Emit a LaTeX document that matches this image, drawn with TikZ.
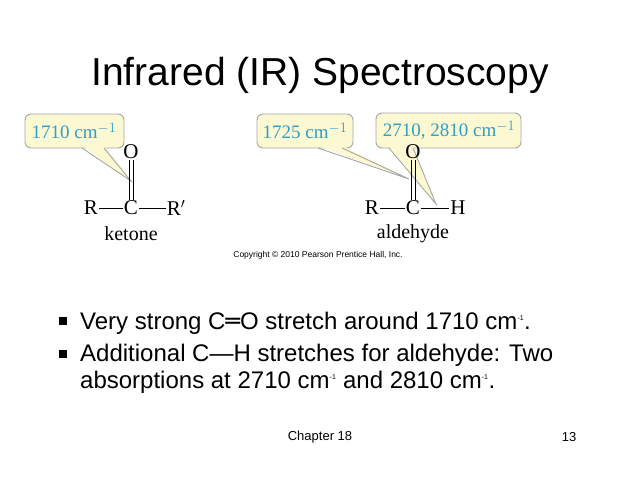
\documentclass[tikz,border=0pt]{standalone}
\usepackage{fontspec}
\setmainfont{Liberation Sans}
\newfontfamily\serif{Liberation Serif}
\newfontfamily\djvfont{DejaVu Sans}
\definecolor{cfill}{HTML}{FCF8D2}
\definecolor{ctxt}{HTML}{2F9FC6}
\begin{document}
\begin{tikzpicture}[x=1pt,y=-1pt,
  call/.style={draw=gray!70,fill=cfill,line width=0.9pt,rounded corners=6pt},
  ctext/.style={text=ctxt,font=\serif\fontsize{19}{19}\selectfont,inner sep=0},
  atom/.style={font=\serif\fontsize{21}{21}\selectfont,inner sep=1pt},
  lab/.style={font=\serif\fontsize{20}{20}\selectfont,inner sep=0},
  bond/.style={line width=0.9pt},
  body/.style={font=\fontsize{24}{27}\selectfont,anchor=west,inner sep=0}]
\useasboundingbox (0,0) rectangle (638,479);
\node[font=\fontsize{39}{39}\selectfont] (title) at (320,75) {Infrared (IR) Spectroscopy};
% ketone
\coordinate (t1) at (131,181);
\draw[call] (25,114) rectangle (124,148);
\fill[cfill] (82,146) -- (t1) -- (104,146) -- cycle;
\draw[gray!70,line width=0.9pt] (82,148) -- (t1) -- (104,148);
\node[ctext] (c1) at (74,131) {1710 cm$^{-1}$};
\node[atom] (o1) at (131,152) {O};
\node[atom] (ck) at (131,208) {C};
\node[atom] (r1) at (91,208) {R};
\node[atom] (r2) at (176,208) {R$'$};
\draw[bond] ([xshift=-2]o1.south) -- ([xshift=-2]ck.north);
\draw[bond] ([xshift=2]o1.south) -- ([xshift=2]ck.north);
\draw[bond] (r1) -- (ck); \draw[bond] (ck) -- (r2.west);
\node[lab] (k) at (131,234) {ketone};
% aldehyde
\coordinate (t2) at (409,179);
\coordinate (t3) at (436,204);
\draw[call] (257,114) rectangle (353,148);
\fill[cfill] (318,146) -- (t2) -- (342,146) -- cycle;
\draw[gray!70,line width=0.9pt] (318,148) -- (t2) -- (342,148);
\node[ctext] (c2) at (305,131) {1725 cm$^{-1}$};
\draw[call] (376,113) rectangle (521,148);
\fill[cfill] (389,146) -- (t3) -- (413,146) -- cycle;
\draw[gray!70,line width=0.9pt] (389,148) -- (t3) -- (413,148);
\node[ctext] (c3) at (449,130) {2710, 2810 cm$^{-1}$};
\node[atom] (o2) at (413,152) {O};
\node[atom] (ca) at (413,208) {C};
\node[atom] (r3) at (372,208) {R};
\node[atom] (h) at (458,208) {H};
\draw[bond] ([xshift=-2]o2.south) -- ([xshift=-2]ca.north);
\draw[bond] ([xshift=2]o2.south) -- ([xshift=2]ca.north);
\draw[bond] (r3) -- (ca); \draw[bond] (ca) -- (h);
\node[lab] (a) at (413,234) {aldehyde};
\node[font=\fontsize{8.5}{8.5}\selectfont] (cp) at (318,255) {Copyright © 2010 Pearson Prentice Hall, Inc.};
% bullets
\fill (59,317) rectangle (67,325);
\fill (59,350) rectangle (67,358);
\node[body] (b1) at (80,323) {Very strong C{\djvfont ═}O stretch around 1710 cm\textsuperscript{\scriptsize -1}.};
\node[body,anchor=north west] (b2) at (80,342) {\begin{tabular}{@{}l@{}}Additional C—H stretches for aldehyde: Two\\absorptions at 2710 cm\textsuperscript{\scriptsize -1} and 2810 cm\textsuperscript{\scriptsize -1}.\end{tabular}};
\node[font=\fontsize{13}{13}\selectfont] (ch) at (320,437) {Chapter 18};
\node[font=\fontsize{13}{13}\selectfont] (n) at (569,437) {13};
\end{tikzpicture}
\end{document}
